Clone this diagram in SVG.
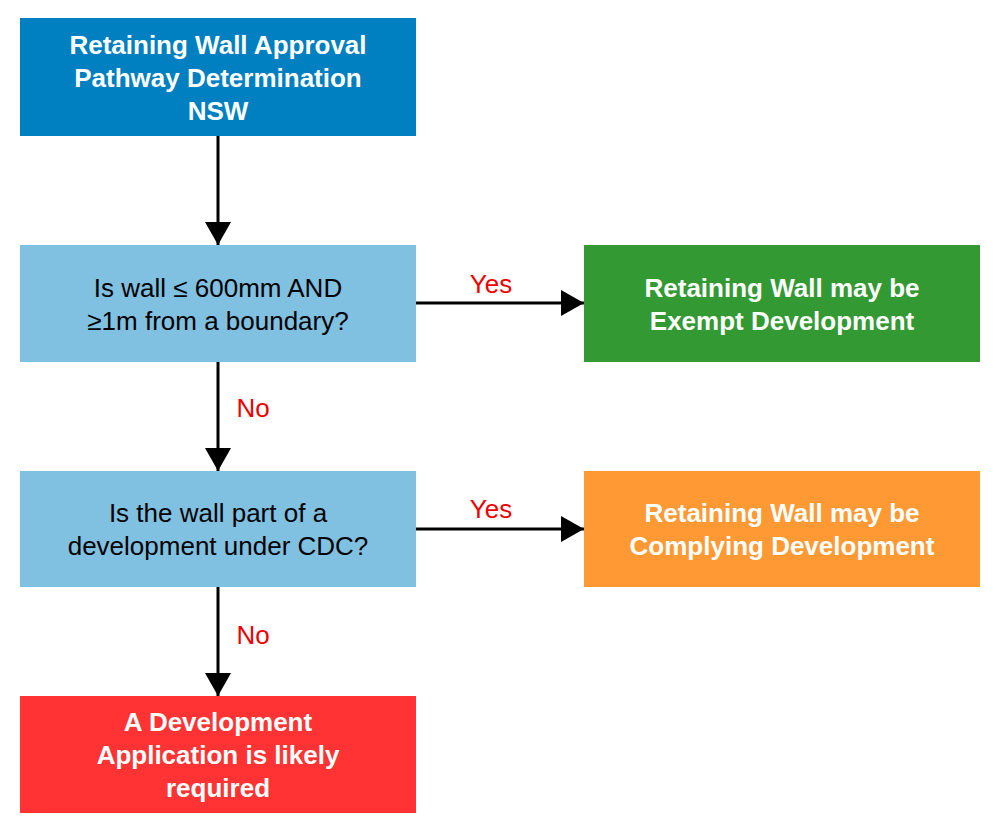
<svg xmlns="http://www.w3.org/2000/svg" width="1000" height="837" viewBox="0 0 1000 837">
<style>
text{font-family:"Liberation Sans",Arial,sans-serif;font-size:26px;text-anchor:middle}
.w{fill:#fff;font-weight:bold}
.b{fill:#000}
.l{fill:#e00;font-size:26px}
.c{stroke:#000;stroke-width:3;fill:none;marker-end:url(#a)}
</style>
<defs><marker id="a" markerWidth="8" markerHeight="8" refX="7" refY="4" orient="auto" markerUnits="userSpaceOnUse" viewBox="0 0 8 8"><path d="M0,0L8,4L0,8z" fill="#000"/></marker></defs>
<rect width="1000" height="837" fill="#fff"/>
<g id="connectors">
<path class="c" d="M218,136V245" style="marker-end:none"/><path d="M205,222L218,245L231,222z"/>
<path class="c" d="M416,303H584" style="marker-end:none"/><path d="M561,290L584,303L561,316z"/>
<path class="c" d="M218,362V471" style="marker-end:none"/><path d="M205,448L218,471L231,448z"/>
<path class="c" d="M416,529H584" style="marker-end:none"/><path d="M561,516L584,529L561,542z"/>
<path class="c" d="M218,587V696" style="marker-end:none"/><path d="M205,673L218,696L231,673z"/>
<text class="l" x="491" y="293">Yes</text>
<text class="l" x="253" y="417">No</text>
<text class="l" x="491" y="518">Yes</text>
<text class="l" x="253" y="644">No</text>
</g>
<g id="start"><rect x="20" y="18" width="396" height="118" fill="#0080C0"/>
<text class="w" x="218" y="54">Retaining Wall Approval</text><text class="w" x="218" y="87">Pathway Determination</text><text class="w" x="218" y="120">NSW</text></g>
<g id="q1"><rect x="20" y="245" width="396" height="117" fill="#80C0E0"/>
<text class="b" x="218" y="297">Is wall ≤ 600mm AND</text><text class="b" x="218" y="330">≥1m from a boundary?</text></g>
<g id="exempt"><rect x="584" y="245" width="396" height="117" fill="#339933"/>
<text class="w" x="782" y="297">Retaining Wall may be</text><text class="w" x="782" y="330">Exempt Development</text></g>
<g id="q2"><rect x="20" y="471" width="396" height="116" fill="#80C0E0"/>
<text class="b" x="218" y="522">Is the wall part of a</text><text class="b" x="218" y="555">development under CDC?</text></g>
<g id="complying"><rect x="584" y="471" width="396" height="116" fill="#FF9933"/>
<text class="w" x="782" y="522">Retaining Wall may be</text><text class="w" x="782" y="555">Complying Development</text></g>
<g id="da"><rect x="20" y="696" width="396" height="117" fill="#FF3333"/>
<text class="w" x="218" y="731">A Development</text><text class="w" x="218" y="764">Application is likely</text><text class="w" x="218" y="797">required</text></g>
</svg>
